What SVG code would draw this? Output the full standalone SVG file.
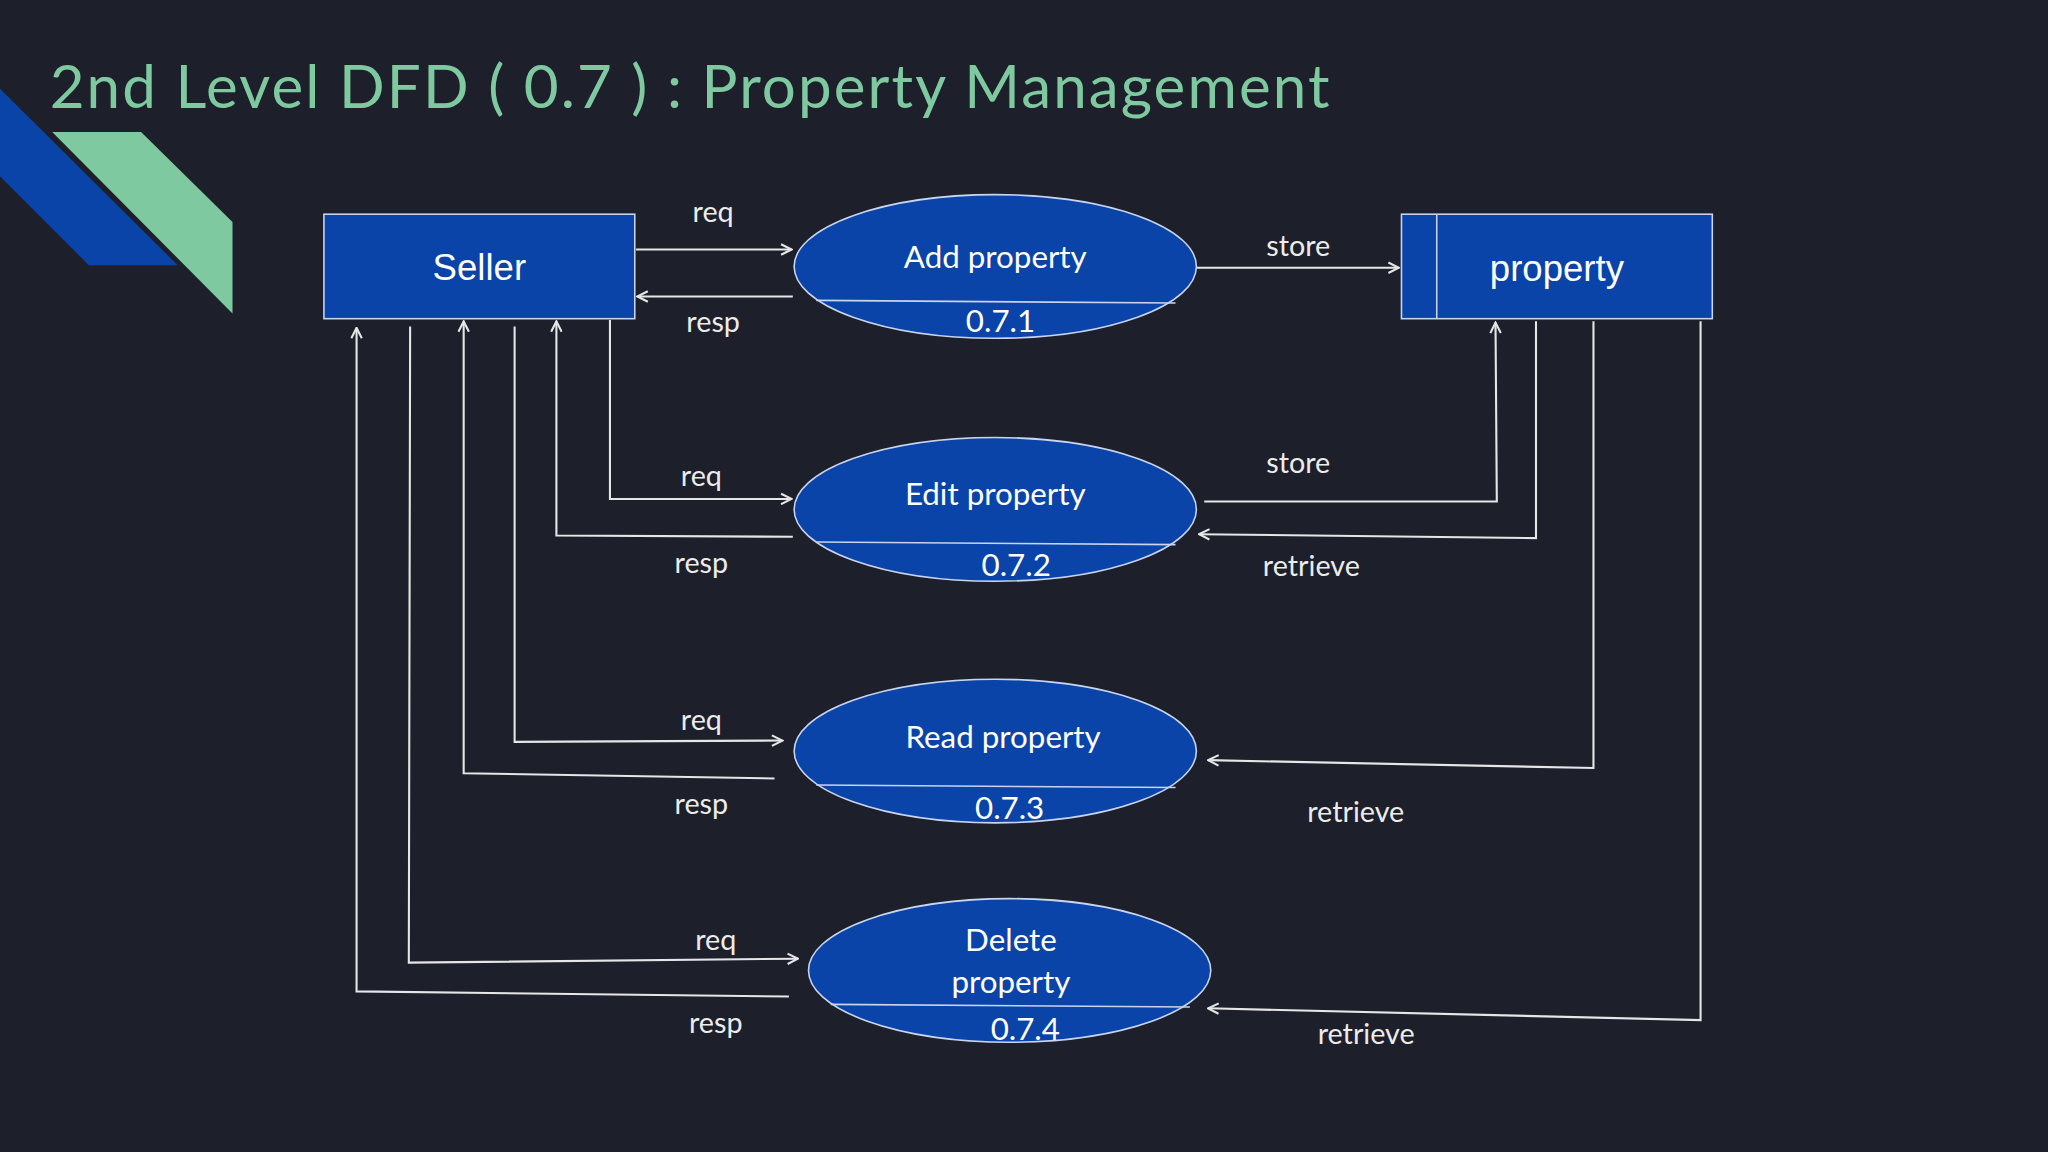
<svg xmlns="http://www.w3.org/2000/svg" width="2048" height="1152" viewBox="0 0 2048 1152">
<defs>
<style>
.ln{fill:none;stroke:#e6e6e6;stroke-width:1.6;marker-end:url(#ah)}
.lb{font-family:Lato,"Open Sans",sans-serif;font-size:22px;fill:#ececec;text-anchor:middle}
.nt{font-family:Lato,"Open Sans",sans-serif;font-size:24px;fill:#ffffff;text-anchor:middle}
.box{fill:#0a44a8;stroke:#c8d4f0;stroke-width:1.2}
.el{fill:#0a44a8;stroke:#c8d4f0;stroke-width:1.2}
.dv{stroke:#c8d4f0;stroke-width:1.2}
</style>
<marker id="ah" viewBox="0 0 10 10" refX="9" refY="5" markerWidth="10" markerHeight="10" orient="auto" markerUnits="userSpaceOnUse">
<path d="M1,1 L9,5 L1,9" fill="none" stroke="#e6e6e6" stroke-width="1.6"/>
</marker>
</defs>
<rect width="2048" height="1152" fill="#1d202b"/>
<g transform="scale(1.30612)">
<polygon points="0,68 136,203 68,203 0,135" fill="#0a44a8"/>
<polygon points="40,101 108,101 178,170 178,240" fill="#7fc9a0"/>
<text x="38" y="83" font-family="Lato,'Open Sans',sans-serif" font-size="46" letter-spacing="1.6" fill="#7fc9a0">2nd Level DFD ( 0.7 ) : Property Management</text>
<g id="connectors">
<polyline class="ln" points="487,191 606,191"/>
<polyline class="ln" points="607,227 488,227"/>
<polyline class="ln" points="916,205 1071,205"/>
<polyline class="ln" points="467,245 467,382 606,382"/>
<polyline class="ln" points="607,411 426,410 426,246"/>
<polyline class="ln" points="922,384 1146,384 1145,247"/>
<polyline class="ln" points="1176,246 1176,412 918,409"/>
<polyline class="ln" points="394,250 394,568 599,567"/>
<polyline class="ln" points="593,596 355,592 355,246"/>
<polyline class="ln" points="1220,246 1220,588 925,582"/>
<polyline class="ln" points="314,250 313,737 611,734"/>
<polyline class="ln" points="604,763 273,759 273,251"/>
<polyline class="ln" points="1302,246 1302,781 925,772"/>
<text class="lb" x="546" y="170">req</text>
<text class="lb" x="546" y="254">resp</text>
<text class="lb" x="994" y="196">store</text>
<text class="lb" x="537" y="372">req</text>
<text class="lb" x="537" y="439">resp</text>
<text class="lb" x="994" y="362">store</text>
<text class="lb" x="1004" y="441">retrieve</text>
<text class="lb" x="537" y="559">req</text>
<text class="lb" x="537" y="623">resp</text>
<text class="lb" x="1038" y="629">retrieve</text>
<text class="lb" x="548" y="727">req</text>
<text class="lb" x="548" y="791">resp</text>
<text class="lb" x="1046" y="799">retrieve</text>
</g>
<g id="seller">
<rect class="box" x="248" y="164" width="238" height="80"/>
<text x="367" y="214" font-family="'Liberation Sans',Arial,sans-serif" font-size="28" fill="#fff" text-anchor="middle">Seller</text>
</g>
<g id="property">
<rect class="box" x="1073" y="164" width="238" height="80"/>
<line class="dv" x1="1100" y1="164" x2="1100" y2="244"/>
<text x="1192" y="215" font-family="'Liberation Sans',Arial,sans-serif" font-size="28" fill="#fff" text-anchor="middle">property</text>
</g>
<g id="p071">
<ellipse class="el" cx="762" cy="204" rx="154" ry="55"/>
<line class="dv" x1="625" y1="230" x2="900" y2="232"/>
<text class="nt" x="762" y="205">Add property</text>
<text class="nt" x="766" y="254">0.7.1</text>
</g>
<g id="p072">
<ellipse class="el" cx="762" cy="390" rx="154" ry="55"/>
<line class="dv" x1="625" y1="415" x2="900" y2="417"/>
<text class="nt" x="762" y="387">Edit property</text>
<text class="nt" x="778" y="441">0.7.2</text>
</g>
<g id="p073">
<ellipse class="el" cx="762" cy="575" rx="154" ry="55"/>
<line class="dv" x1="625" y1="601" x2="900" y2="603"/>
<text class="nt" x="768" y="573">Read  property</text>
<text class="nt" x="773" y="627">0.7.3</text>
</g>
<g id="p074">
<ellipse class="el" cx="773" cy="743" rx="154" ry="55"/>
<line class="dv" x1="636" y1="769" x2="911" y2="771"/>
<text class="nt" x="774" y="728">Delete</text>
<text class="nt" x="774" y="760">property</text>
<text class="nt" x="785" y="796">0.7.4</text>
</g>
</g>
</svg>
